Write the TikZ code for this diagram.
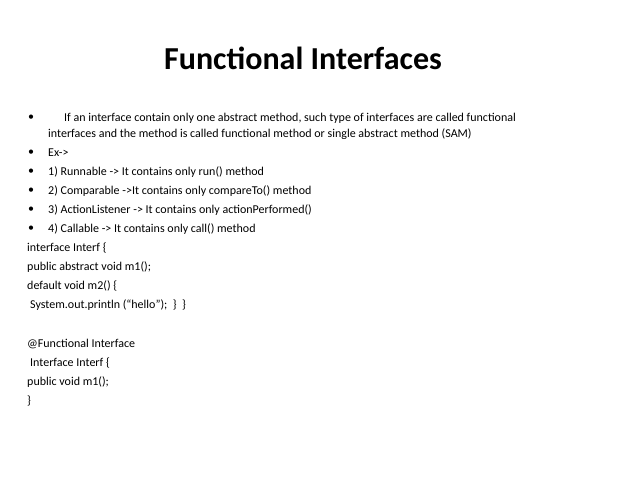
\documentclass[tikz,border=0pt]{standalone}
\usepackage{fontspec}
\setmainfont{Carlito}
\begin{document}
\begin{tikzpicture}[x=1pt,y=-1pt,t/.style={anchor=west,inner sep=0pt,font=\fontsize{12}{14}\selectfont}]
\useasboundingbox[fill=white] (0,0) rectangle (638,478);
\node[anchor=center,font=\fontsize{32}{36}\selectfont\bfseries] (title) at (303,58) {Functional Interfaces};
\foreach \y in {118,153,172,191,210,229} \node[t] at (28,\y) {•};
\node[t] (b1) at (64,118) {If an interface contain only one abstract method, such type of interfaces are called functional};
\node[t] (b1b) at (48,134) {interfaces and the method is called functional method or single abstract method (SAM)};
\node[t] (b2) at (48,153) {Ex->};
\node[t] (b3) at (48,172) {1) Runnable -> It contains only run() method};
\node[t] (b4) at (48,191) {2) Comparable ->It contains only compareTo() method};
\node[t] (b5) at (48,210) {3) ActionListener -> It contains only actionPerformed()};
\node[t] (b6) at (48,229) {4) Callable -> It contains only call() method};
\node[t] (c1) at (27,248) {interface Interf \{};
\node[t] (c2) at (27,267) {public abstract void m1();};
\node[t] (c3) at (27,286) {default void m2() \{};
\node[t] (c4) at (30,305) {System.out.println (“hello”); \ \} \ \}};
\node[t] (c5) at (27,344) {@Functional Interface};
\node[t] (c6) at (30,363) {Interface Interf \{};
\node[t] (c7) at (27,382) {public void m1();};
\node[t] (c8) at (27,401) {\}};
\end{tikzpicture}
\end{document}
